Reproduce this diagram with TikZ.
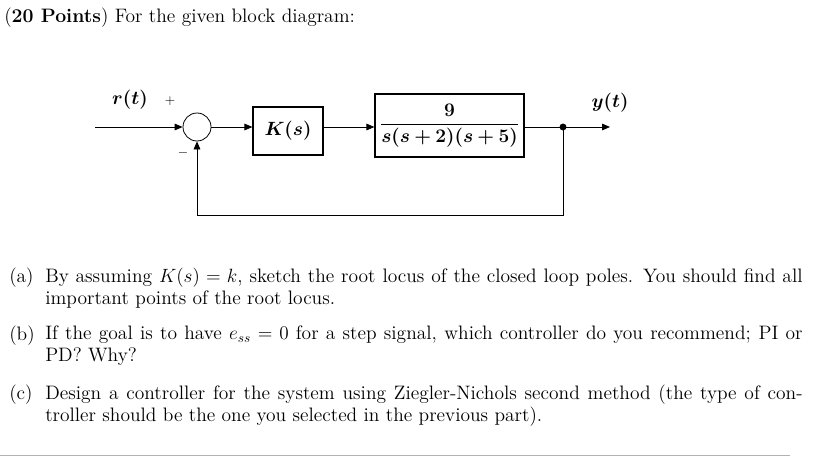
\documentclass[tikz,border=0pt]{standalone}
\usepackage{amsmath,bm}
\usetikzlibrary{arrows.meta}
\begin{document}
\begin{tikzpicture}[x=0.75pt,y=-0.75pt,
  blk/.style={draw,line width=0.9pt,minimum height=0.75pt*#1,inner sep=0pt},
  sig/.style={-{Triangle[length=6pt,width=5pt]},line width=0.6pt},
  ln/.style={line width=0.6pt},
  bf/.style={font=\fontsize{14}{16}\selectfont},
  lab/.style={anchor=north west,inner sep=0pt,font=\fontsize{14.6}{16.5}\selectfont},
  txt/.style={anchor=north west,inner sep=0pt,font=\fontsize{14.6}{16.5}\selectfont,text width=568pt,align=justify}]
\useasboundingbox (0,0) rectangle (837,460);
\node[anchor=west,inner sep=0pt,font=\fontsize{14.6}{16.5}\selectfont] (title) at (4,18) {(\textbf{20 Points}) For the given block diagram:};
\node[draw,circle,minimum size=21pt,inner sep=0pt,line width=0.6pt] (sum) at (197,127) {};
\node[blk=48,minimum width=52.5pt,bf] (K) at (288,131) {$\bm{K(s)}$};
\node[blk=63,minimum width=111.75pt,bf] (G) at (449.5,125.5) {$\dfrac{\bm{9}}{\bm{s(s+2)(s+5)}}$};
\coordinate (in) at (95,127);
\coordinate (dot) at (563,127);
\coordinate (out) at (610,127);
\draw[sig] (in) -- (sum);
\draw[sig] (sum) -- (K.west|-sum);
\draw[sig] (K.east|-sum) -- (G.west|-sum);
\draw[ln] (G.east|-sum) -- (dot);
\draw[sig] (dot) -- (out);
\fill (dot) circle (2.6pt);
\draw[sig] (dot) -- (563,215) -- (197,215) -- (sum.south);
\node[bf] (r) at (130,100) {$\bm{r(t)}$};
\node (plus) at (170,101) {$+$};
\node (minus) at (183,153) {$-$};
\node[bf] (y) at (610,103) {$\bm{y(t)}$};
\node[lab] (la) at (9,268) {(a)};
\node[txt] (a) at (45,268) {By assuming $K(s)=k$, sketch the root locus of the closed loop poles. You should find all important points of the root locus.};
\node[lab] (lb) at (9,326) {(b)};
\node[txt] (b) at (45,326) {If the goal is to have $e_{ss}=0$ for a step signal, which controller do you recommend; PI or PD? Why?};
\node[lab] (lc) at (9,385) {(c)};
\node[txt] (c) at (45,385) {Design a controller for the system using Ziegler-Nichols second method (the type of con\-troller should be the one you selected in the previous part).};
\draw[gray!60,line width=0.5pt] (0,455) -- (790,455);
\end{tikzpicture}
\end{document}
